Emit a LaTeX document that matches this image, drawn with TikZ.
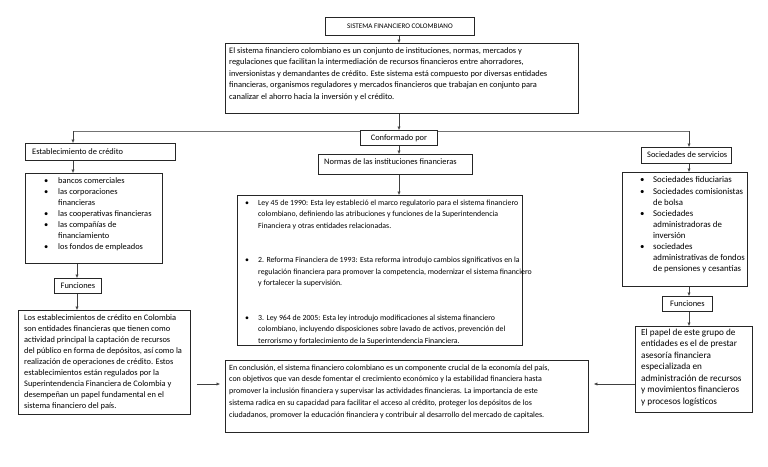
\documentclass[tikz,border=0pt]{standalone}
\usepackage{fontspec}
\setmainfont{Carlito}
\usetikzlibrary{arrows.meta}
\newcommand{\myfs}[2]{\fontsize{#1}{#2}\selectfont}
\begin{document}
\begin{tikzpicture}[x=1pt,y=-1pt,
  bx/.style={draw=black!85, line width=0.9pt, anchor=north west, inner sep=0pt},
  tx/.style={anchor=north west, inner sep=0pt, align=left},
  lb/.style={anchor=base west, inner sep=0pt, font=\myfs{8.4}{10}},
  ct/.style={inner sep=0pt, font=\myfs{8.4}{10}},
  arr/.style={draw=black!75, line width=0.5pt, -{Latex[length=3.5pt,width=3.2pt]}},
  ln/.style={draw=black!55, line width=0.6pt}]
\useasboundingbox[fill=white] (0,0) rectangle (768,466);

% ---------- boxes ----------
\node[bx, minimum width=149pt, minimum height=18pt] (title) at (325,17) {};
\node[bx, minimum width=353pt, minimum height=70pt] (intro) at (225,43) {};
\node[bx, minimum width=77pt, minimum height=15pt] (conf) at (360,130) {};
\node[bx, minimum width=154pt, minimum height=20pt] (normas) at (318,154) {};
\node[bx, minimum width=285pt, minimum height=150pt] (leyes) at (237,195) {};
\node[bx, minimum width=150pt, minimum height=17pt] (est) at (25,143) {};
\node[bx, minimum width=137pt, minimum height=90pt] (lbul) at (25,173) {};
\node[bx, minimum width=47pt, minimum height=15pt] (funL) at (54,278) {};
\node[bx, minimum width=172pt, minimum height=104pt] (descL) at (18,310) {};
\node[bx, minimum width=363pt, minimum height=72pt] (concl) at (225,360) {};
\node[bx, minimum width=90pt, minimum height=16pt] (soc) at (641,147) {};
\node[bx, minimum width=125pt, minimum height=114pt] (rbul) at (622,172) {};
\node[bx, minimum width=50pt, minimum height=15pt] (funR) at (662,296) {};
\node[bx, minimum width=117pt, minimum height=86pt] (descR) at (635,326) {};

% ---------- texts ----------
\node[ct, font=\myfs{7.1}{9}] (titlet) at (title.center) {SISTEMA FINANCIERO COLOMBIANO};
\node[ct] (conft) at (conf.center) {Conformado por};
\node[ct] (funLt) at (funL.center) {Funciones};
\node[ct] (funRt) at (funR.center) {Funciones};
\node[lb] (estt) at (32,154) {Establecimiento de crédito};
\node[lb] (normast) at (324,164) {Normas de las instituciones financieras};
\node[lb] (soct) at (647,157.5) {Sociedades de servicios};

\node[tx, font=\myfs{8.4}{11.5}] (introt) at (229,45) {\begin{tabular}{@{}l@{}}
El sistema financiero colombiano es un conjunto de instituciones, normas, mercados y\\
regulaciones que facilitan la intermediación de recursos financieros entre ahorradores,\\
inversionistas y demandantes de crédito. Este sistema está compuesto por diversas entidades\\
financieras, organismos reguladores y mercados financieros que trabajan en conjunto para\\
canalizar el ahorro hacia la inversión y el crédito.
\end{tabular}};

\node[tx, font=\myfs{8.4}{11}] (lbult) at (44,175.3) {\begin{tabular}{@{}p{14pt}@{}l@{}}
\textbullet & bancos comerciales\\
\textbullet & las corporaciones\\
 & financieras\\
\textbullet & las cooperativas financieras\\
\textbullet & las compañías de\\
 & financiamiento\\
\textbullet & los fondos de empleados
\end{tabular}};

\node[tx, font=\myfs{8.4}{11}] (descLt) at (24,312.3) {\begin{tabular}{@{}l@{}}
Los establecimientos de crédito en Colombia\\
son entidades financieras que tienen como\\
actividad principal la captación de recursos\\
del público en forma de depósitos, así como la\\
realización de operaciones de crédito. Estos\\
establecimientos están regulados por la\\
Superintendencia Financiera de Colombia y\\
desempeñan un papel fundamental en el\\
sistema financiero del país.
\end{tabular}};

\node[tx, font=\myfs{7.85}{11.5}] (leyest) at (245,197) {\begin{tabular}{@{}p{13pt}@{}l@{}}
\textbullet & Ley 45 de 1990: Esta ley estableció el marco regulatorio para el sistema financiero\\
 & colombiano, definiendo las atribuciones y funciones de la Superintendencia\\
 & Financiera y otras entidades relacionadas.\\
 & \\
 & \\
\textbullet & 2. Reforma Financiera de 1993: Esta reforma introdujo cambios significativos en la\\
 & regulación financiera para promover la competencia, modernizar el sistema financiero\\
 & y fortalecer la supervisión.\\
 & \\
 & \\
\textbullet & 3. Ley 964 de 2005: Esta ley introdujo modificaciones al sistema financiero\\
 & colombiano, incluyendo disposiciones sobre lavado de activos, prevención del\\
 & terrorismo y fortalecimiento de la Superintendencia Financiera.
\end{tabular}};

\node[tx, font=\myfs{8}{11.75}] (conclt) at (229,361.8) {\begin{tabular}{@{}l@{}}
En conclusión, el sistema financiero colombiano es un componente crucial de la economía del país,\\
con objetivos que van desde fomentar el crecimiento económico y la estabilidad financiera hasta\\
promover la inclusión financiera y supervisar las actividades financieras. La importancia de este\\
sistema radica en su capacidad para facilitar el acceso al crédito, proteger los depósitos de los\\
ciudadanos, promover la educación financiera y contribuir al desarrollo del mercado de capitales.
\end{tabular}};

\node[tx, font=\myfs{8.8}{11.1}] (rbult) at (640,175) {\begin{tabular}{@{}p{13pt}@{}l@{}}
\textbullet & Sociedades fiduciarias\\
\textbullet & Sociedades comisionistas\\
 & de bolsa\\
\textbullet & Sociedades\\
 & administradoras de\\
 & inversión\\
\textbullet & sociedades\\
 & administrativas de fondos\\
 & de pensiones y cesantías
\end{tabular}};

\node[tx, font=\myfs{9.2}{11.5}] (descRt) at (641,326.8) {\begin{tabular}{@{}l@{}}
El papel de este grupo de\\
entidades es el de prestar\\
asesoría financiera\\
especializada en\\
administración de recursos\\
y movimientos financieros\\
y procesos logísticos
\end{tabular}};

% ---------- connectors ----------
\coordinate (hl) at (73,131);
\coordinate (hr) at (689,131);
\coordinate (ay) at (0,384);
\coordinate (cx) at (399,0);
\coordinate (rx) at (689,0);
\coordinate (lx) at (77,0);

\draw[arr] (title.south -| cx) -- (intro.north -| cx);
\draw[arr] (intro.south -| cx) -- (conf.north -| cx);
\draw[ln] (hl) -- (conf.north west |- hl);
\draw[ln] (conf.north east |- hr) -- (hr);
\draw[arr] (hl) -- (hl |- est.north);
\draw[arr] (hr) -- (hr |- soc.north);
\draw[arr] (conf.south -| cx) -- (normas.north -| cx);
\draw[arr] (normas.south -| cx) -- (leyes.north -| cx);
\draw[arr] (est.south -| hl) -- (lbul.north -| hl);
\draw[arr] (lbul.south -| lx) -- (funL.north -| lx);
\draw[arr] (funL.south -| lx) -- (descL.north -| lx);
\draw[arr] (soc.south -| rx) -- (rbul.north -| rx);
\draw[arr] (rbul.south -| rx) -- (funR.north -| rx);
\draw[arr] (funR.south -| rx) -- (descR.north -| rx);
\draw[arr, shorten <=6pt, shorten >=5pt] (descL.east |- ay) -- (concl.west |- ay);
\draw[arr, shorten >=5pt] (descR.west |- ay) -- (concl.east |- ay);
\end{tikzpicture}
\end{document}
